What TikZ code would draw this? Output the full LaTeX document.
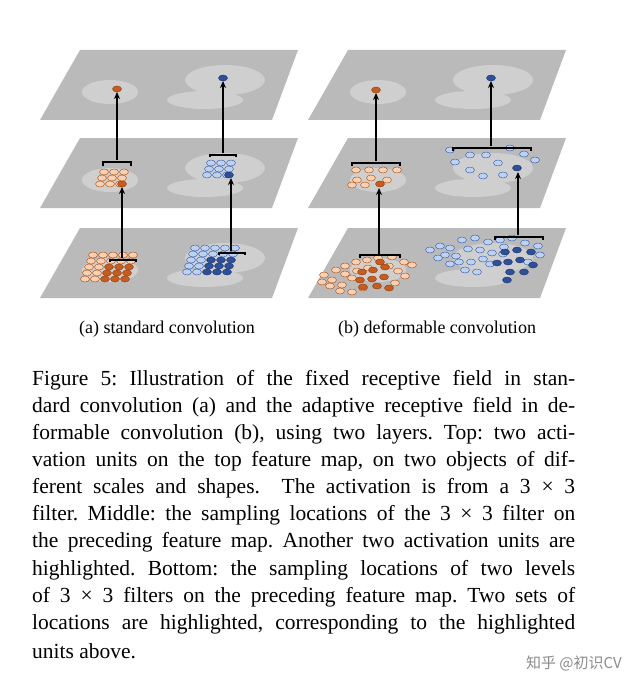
\documentclass[tikz,border=0pt]{standalone}
\usepackage{fontspec}
\setmainfont{Liberation Serif}
\newfontfamily\cjk{Noto Sans CJK SC}
\usetikzlibrary{arrows.meta}
\frenchspacing
\begin{document}
\begin{tikzpicture}[x=1pt,y=-1pt,
  plane/.style={fill=black!27},
  sheep/.style={fill=black!19,draw=none},
  lo/.style={fill={rgb,255:red,250;green,208;blue,178},draw={rgb,255:red,170;green,80;blue,20},line width=0.4pt},
  do/.style={fill={rgb,255:red,200;green,92;blue,30},draw={rgb,255:red,140;green,60;blue,15},line width=0.4pt},
  lb/.style={fill={rgb,255:red,190;green,210;blue,240},draw={rgb,255:red,50;green,90;blue,170},line width=0.4pt},
  db/.style={fill={rgb,255:red,45;green,80;blue,155},draw={rgb,255:red,30;green,50;blue,110},line width=0.4pt},
  arr/.style={-{Stealth[length=7pt,width=6pt]},line width=1.6pt},
  brace/.style={line width=1.6pt},
  txt/.style={anchor=west,inner sep=0pt,font=\fontsize{21.5}{25}\selectfont}]
\useasboundingbox (0,0) rectangle (637,690);
\fill[white] (0,0) rectangle (637,690);
% planes
\foreach \dx in {0,268}{
 \foreach \dy in {0,88,178}{
  \fill[plane] (80+\dx,50+\dy) -- (298+\dx,50+\dy) -- (272+\dx,120+\dy) -- (40+\dx,120+\dy) -- cycle;
  \fill[sheep] (110+\dx,92+\dy) ellipse (28 and 12);
  \fill[sheep] (225+\dx,80+\dy) ellipse (40 and 15);
  \fill[sheep] (205+\dx,100+\dy) ellipse (38 and 9);
 }}
% ---- left panel ----
\draw[do] (117,89) ellipse (4.5 and 3);
\draw[db] (223,78) ellipse (4.5 and 3);
\foreach \i in {0,1,2}{\foreach \j in {0,1,2}{
  \draw[lo] (104+10*\i-2*\j,172+6*\j) ellipse (4.5 and 3);
  \draw[lb] (211+10*\i-2*\j,163+6*\j) ellipse (4.5 and 3);}}
\draw[do] (122,184) ellipse (4.5 and 3);
\draw[db] (229,175) ellipse (4.5 and 3);
\foreach \i in {0,...,4}{\foreach \j in {0,...,4}{
  \pgfmathtruncatemacro\ok{(\i>1 && \j>1)?1:0}
  \ifnum\ok=1
   \draw[do] (93+10*\i-2*\j,255+6*\j) ellipse (4.5 and 3);
   \draw[db] (195+10*\i-2*\j,248+6*\j) ellipse (4.5 and 3);
  \else
   \draw[lo] (93+10*\i-2*\j,255+6*\j) ellipse (4.5 and 3);
   \draw[lb] (195+10*\i-2*\j,248+6*\j) ellipse (4.5 and 3);
  \fi}}
\coordinate (b1) at (117,160); \coordinate (t1) at (117,92);
\coordinate (b2) at (223,153); \coordinate (t2) at (223,81);
\coordinate (b3) at (122,258); \coordinate (t3) at (122,187);
\coordinate (b4) at (231,251); \coordinate (t4) at (231,178);
\draw[brace] (103,166) -- (103,162) -- (131,162) -- (131,166);
\draw[brace] (210,157) -- (210,155) -- (236,155) -- (236,157);
\draw[brace] (110,262) -- (110,260) -- (136,260) -- (136,262);
\draw[brace] (219,255) -- (219,253) -- (245,253) -- (245,255);
\draw[arr] (b1) -- (t1); \draw[arr] (b2) -- (t2);
\draw[arr] (b3) -- (t3); \draw[arr] (b4) -- (t4);
% ---- right panel ----
\draw[do] (376,90) ellipse (4.5 and 3);
\draw[db] (491,78) ellipse (4.5 and 3);
\foreach \p in {(356,170),(369,170),(383,170),(397,170),(357,180),(371,178),(387,180),(352,185),(365,185)}
  \draw[lo] \p ellipse (4.5 and 3);
\draw[do] (380,184) ellipse (4.5 and 3);
\foreach \p in {(455,162),(470,170),(470,155),(486,155),(498,163),(510,148),(524,154),(483,176),(503,175),(535,160),(450,150)}
  \draw[lb] \p ellipse (4.5 and 3);
\draw[db] (517,168) ellipse (4.5 and 3);
\foreach \p in {(324,275),(332,280),(322,282),(336,270),(345,266),(356,262),(367,260),(378,258),(392,257),(404,262),(412,265),(330,286),(342,285),(352,278),(345,274),(357,271),(368,268),(389,266),(398,271),(340,291),(352,292),(363,288),(395,283),(405,276)}
  \draw[lo] \p ellipse (4.5 and 3);
\foreach \p in {(362,272),(373,270),(385,267),(360,280),(372,279),(384,277),(363,287),(377,286),(389,288),(380,262)}
  \draw[do] \p ellipse (4.5 and 3);
\foreach \p in {(430,250),(440,246),(450,248),(462,240),(475,238),(488,242),(500,240),(512,238),(525,243),(538,246),(445,255),(456,256),(468,249),(480,250),(492,253),(504,247),(459,262),(471,262),(483,259),(450,264),(438,258),(465,270),(477,272),(490,264),(503,254),(540,255),(528,262)}
  \draw[lb] \p ellipse (4.5 and 3);
\foreach \p in {(505,252),(517,250),(531,252),(508,262),(520,260),(533,265),(510,272),(524,272),(507,280),(497,263)}
  \draw[db] \p ellipse (4.5 and 3);
\coordinate (b5) at (376,161); \coordinate (t5) at (376,93);
\coordinate (b6) at (491,146); \coordinate (t6) at (491,81);
\coordinate (b7) at (379,254); \coordinate (t7) at (379,188);
\coordinate (b8) at (518,235); \coordinate (t8) at (518,172);
\draw[brace] (352,166) -- (352,163) -- (400,163) -- (400,166);
\draw[brace] (453,151) -- (453,148) -- (531,148) -- (531,151);
\draw[brace] (360,258) -- (360,255) -- (400,255) -- (400,258);
\draw[brace] (495,240) -- (495,237) -- (543,237) -- (543,240);
\draw[arr] (b5) -- (t5); \draw[arr] (b6) -- (t6);
\draw[arr] (b7) -- (t7); \draw[arr] (b8) -- (t8);
% captions
\node[font=\fontsize{18}{21}\selectfont] (ca) at (167,329) {(a) standard convolution};
\node[font=\fontsize{18}{21}\selectfont] (cb) at (437,329) {(b) deformable convolution};
% paragraph
\foreach \t [count=\k] in {
 {Figure 5: Illustration of the fixed receptive field in stan-},
 {dard convolution (a) and the adaptive receptive field in de-},
 {formable convolution (b), using two layers. Top: two acti-},
 {vation units on the top feature map, on two objects of dif-},
 {ferent scales and shapes.\ \ The activation is from a 3 × 3},
 {filter. Middle: the sampling locations of the 3 × 3 filter on},
 {the preceding feature map. Another two activation units are},
 {highlighted. Bottom: the sampling locations of two levels},
 {of 3 × 3 filters on the preceding feature map. Two sets of},
 {locations are highlighted, corresponding to the highlighted}}
 \node[txt] (l\k) at (32,353+27.1*\k) {\makebox[543pt][s]{\t}};
\node[txt] (l11) at (32,651) {units above.};
\node[anchor=east,inner sep=0pt,text=black!45,font=\cjk\fontsize{15}{18}\selectfont] (wm) at (622,663) {知乎 @初识CV};
\end{tikzpicture}
\end{document}
